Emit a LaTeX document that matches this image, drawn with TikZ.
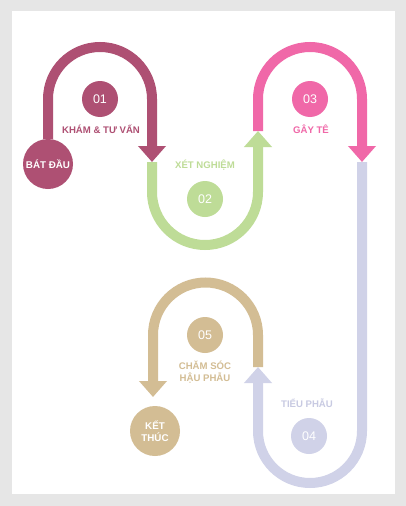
\documentclass[tikz,border=0pt]{standalone}
\usepackage{fontspec}
\setmainfont{Liberation Sans}
\usepackage{tikz}
\usetikzlibrary{arrows.meta,backgrounds}
\definecolor{plum}{HTML}{AE5073}
\definecolor{leaf}{HTML}{BEDC97}
\definecolor{rose}{HTML}{F068A8}
\definecolor{lilac}{HTML}{D0D2E8}
\definecolor{lilactext}{HTML}{C8CAE2}
\definecolor{sand}{HTML}{D3BD94}
\definecolor{framegray}{HTML}{E6E6E6}
\tikzset{
  band/.style={line width=10pt, -{Triangle[width=27pt,length=16pt]}},
  bigdot/.style={circle, minimum size=50pt, inner sep=0pt, text=white, align=center,
    font=\bfseries\fontsize{9.8}{12.5}\selectfont},
  numdot/.style={circle, minimum size=36pt, inner sep=0pt, text=white,
    font=\fontsize{12.5}{13}\selectfont},
  steplabel/.style={align=center, font=\bfseries\fontsize{9.6}{11.5}\selectfont}
}

\begin{document}
\begin{tikzpicture}[x=1pt,y=-1pt]
    \useasboundingbox (0,0) rectangle (406,506);
    \coordinate (t1) at (152,162);
    \coordinate (t2) at (258,131);
    \coordinate (t3) at (362,162);
    \coordinate (t4) at (258,367);
    \coordinate (t5) at (153,397);
    \node[bigdot, fill=plum] (start) at (48,164) {BÁT ĐẦU};
    \node[bigdot, fill=sand] (finish) at (155,431) {KẾT\\THÚC};
    \node[numdot, fill=plum] (n1) at (100,99) {01};
    \node[numdot, fill=leaf] (n2) at (205,199) {02};
    \node[numdot, fill=rose] (n3) at (310,99) {03};
    \node[numdot, fill=lilac] (n4) at (309,436) {04};
    \node[numdot, fill=sand] (n5) at (205,335) {05};
    \node[steplabel, text=plum] (l1) at (101,129) {KHÁM \& TƯ VẤN};
    \node[steplabel, text=leaf] (l2) at (205,165) {XÉT NGHIỆM};
    \node[steplabel, text=rose] (l3) at (311,129) {GÂY TÊ};
    \node[steplabel, text=lilactext] (l4) at (307,403) {TIỂU PHẪU};
    \node[steplabel, text=sand] (l5) at (205,372) {CHĂM SÓC\\HẬU PHẪU};
    \begin{scope}[on background layer]
        \fill[framegray] (0,0) rectangle (406,506);
        \fill[white] (12,11) rectangle (395,494);
        % later bands first, so each tip lies on the next band
        \draw[band, sand] (t4) -- (258,335) arc[start angle=0, end angle=-180, radius=52.5] -- (t5);
        \draw[band, lilac] (t3) -- (362,431) arc[start angle=0, end angle=180, radius=52] -- (t4);
        \draw[band, rose] (t2) -- (258,99) arc[start angle=180, end angle=360, radius=52] -- (t3);
        \draw[band, leaf] (t1) -- (152,192) arc[start angle=180, end angle=0, radius=53] -- (t2);
        \draw[band, plum] (start) -- (48,99) arc[start angle=180, end angle=360, radius=52] -- (t1);
    \end{scope}
\end{tikzpicture}
\end{document}
